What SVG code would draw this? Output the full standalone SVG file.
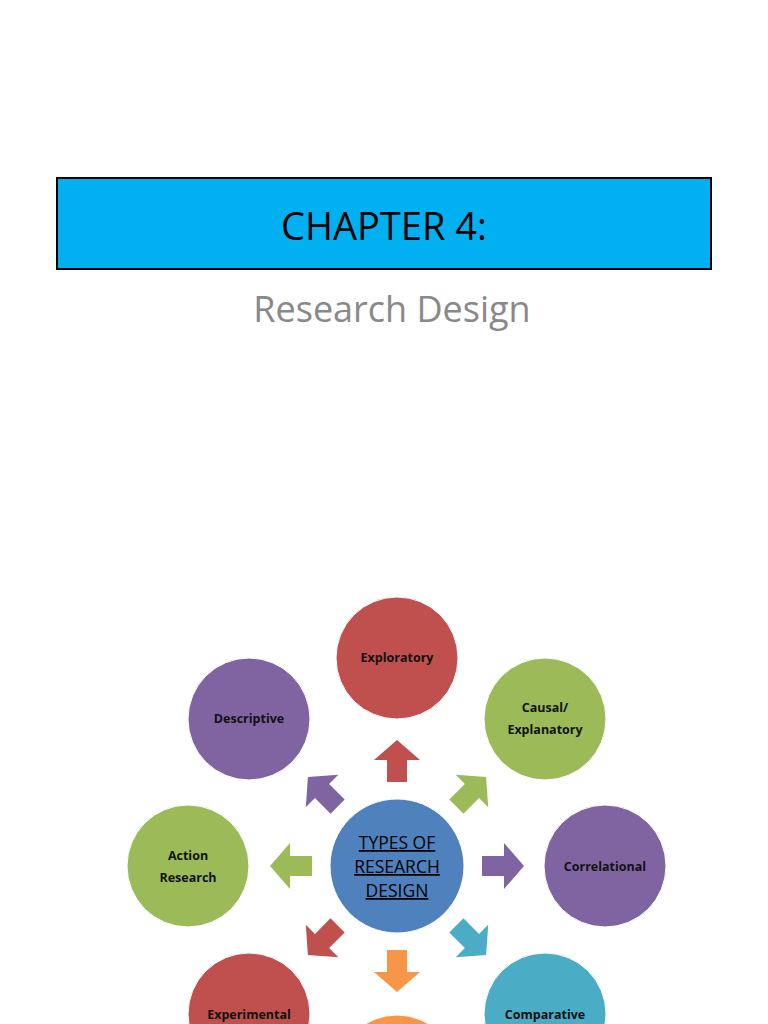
<svg xmlns="http://www.w3.org/2000/svg" width="768" height="1024" viewBox="0 0 768 1024">
<defs>
<style>
.t{font-family:"Open Sans","Liberation Sans",sans-serif;}
.n{font-family:"Open Sans","Liberation Sans",sans-serif;font-size:12.5px;font-weight:bold;fill:#111;text-anchor:middle}
.c{stroke:#fff;stroke-width:1}
</style>
<path id="arr" d="M0,-10 L22,-10 L22,-23 L42,0 L22,23 L22,10 L0,10 Z"/>
</defs>
<rect width="768" height="1024" fill="#fff"/>
<rect x="57" y="178" width="654" height="91" fill="#00B0F0" stroke="#000" stroke-width="2"/>
<text class="t" x="384" y="240" font-size="38" text-anchor="middle" fill="#000">CHAPTER 4:</text>
<text class="t" x="392" y="322" font-size="36" text-anchor="middle" fill="#898989">Research Design</text>
<g id="connectors">
<use href="#arr" fill="#C0504D" transform="translate(397,866) rotate(-90) translate(84,0)"/>
<use href="#arr" fill="#9BBB59" transform="translate(397,866) rotate(-45) translate(84,0)"/>
<use href="#arr" fill="#8064A2" transform="translate(397,866) rotate(0) translate(85,0)"/>
<use href="#arr" fill="#4BACC6" transform="translate(397,866) rotate(45) translate(84,0)"/>
<use href="#arr" fill="#F79646" transform="translate(397,866) rotate(90) translate(84,0)"/>
<use href="#arr" fill="#C0504D" transform="translate(397,866) rotate(135) translate(84,0)"/>
<use href="#arr" fill="#9BBB59" transform="translate(397,866) rotate(180) translate(85,0)"/>
<use href="#arr" fill="#8064A2" transform="translate(397,866) rotate(225) translate(84,0)"/>
</g>
<g id="center"><circle class="c" cx="397" cy="866" r="67" fill="#4F81BD"/>
<g class="t" font-size="17.5" fill="#000" text-anchor="middle" text-decoration="underline">
<text x="397" y="849">TYPES OF</text><text x="397" y="873">RESEARCH</text><text x="397" y="897">DESIGN</text></g></g>
<g id="exploratory"><circle class="c" cx="397" cy="658" r="61" fill="#C0504D"/><text class="n" x="397" y="662">Exploratory</text></g>
<g id="causal"><circle class="c" cx="545" cy="719" r="61" fill="#9BBB59"/><text class="n" x="545" y="712">Causal/</text><text class="n" x="545" y="734">Explanatory</text></g>
<g id="correlational"><circle class="c" cx="605" cy="866" r="61" fill="#8064A2"/><text class="n" x="605" y="871">Correlational</text></g>
<g id="comparative"><circle class="c" cx="545" cy="1014" r="61" fill="#4BACC6"/><text class="n" x="545" y="1019">Comparative</text></g>
<g id="bottom"><circle class="c" cx="397" cy="1076" r="61" fill="#F79646"/></g>
<g id="experimental"><circle class="c" cx="249" cy="1014" r="61" fill="#C0504D"/><text class="n" x="249" y="1019">Experimental</text></g>
<g id="action"><circle class="c" cx="188" cy="866" r="61" fill="#9BBB59"/><text class="n" x="188" y="860">Action</text><text class="n" x="188" y="882">Research</text></g>
<g id="descriptive"><circle class="c" cx="249" cy="719" r="61" fill="#8064A2"/><text class="n" x="249" y="723">Descriptive</text></g>
</svg>
